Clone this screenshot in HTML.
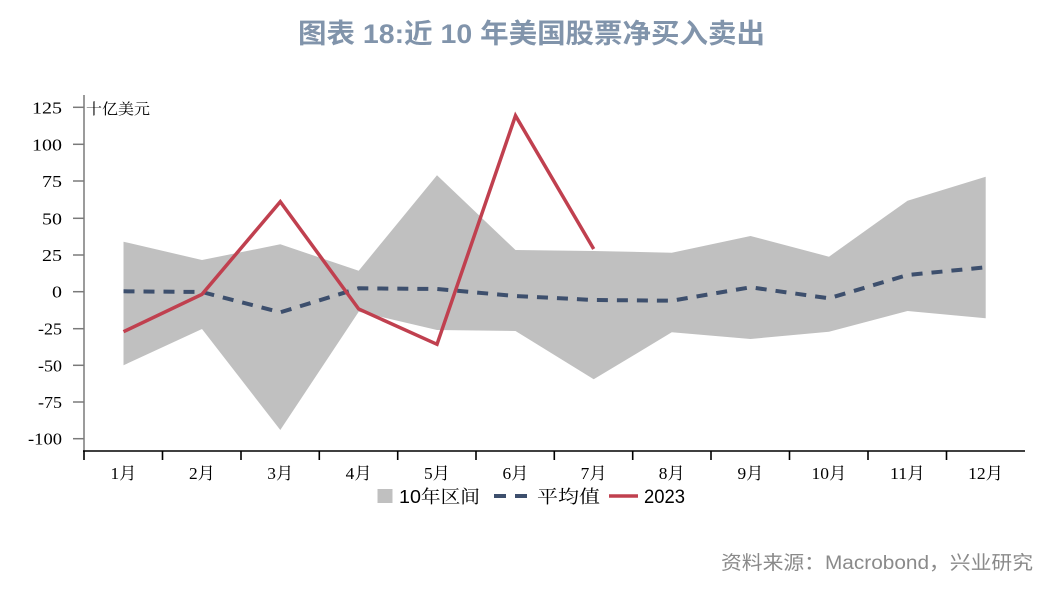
<!DOCTYPE html>
<html>
<head>
<meta charset="utf-8">
<style>
  html, body { margin:0; padding:0; background:#ffffff; }
  body { width:1059px; height:591px; overflow:hidden; }
  svg { display:block; }
</style>
</head>
<body>
<svg width="1059" height="591" viewBox="0 0 1059 591" xmlns="http://www.w3.org/2000/svg">
  <rect x="0" y="0" width="1059" height="591" fill="#ffffff"/>

  <!-- Title -->
  <text x="298" y="43" font-family="'Liberation Sans','Noto Sans CJK SC',sans-serif" font-size="27" font-weight="bold" fill="#8194ab" textLength="467" lengthAdjust="spacingAndGlyphs">图表 18:近 10 年美国股票净买入卖出</text>

  <!-- Band -->
  <polygon fill="#c0c0c0" points="
    123.5,241.7 202,260 280.3,244.3 358.7,270.7 437,175.3 515.5,250 593.7,251 671.8,252.7 750.5,236 829,256.7 907.5,200.7 985.7,176.7
    985.7,318.3 907.5,311 829,331.7 750.5,339 671.8,332.3 593.7,379.3 515.5,331 437,330 358.7,311.7 280.3,430 202,329 123.5,365.3"/>

  <!-- Average dashed -->
  <polyline fill="none" stroke="#3d4f6d" stroke-width="4" stroke-dasharray="11,9"
    points="123.5,291.3 202,292 280.3,312.3 358.7,288.3 437,289 515.5,296 593.7,300 671.8,300.7 750.5,287.3 829,298.3 907.5,275 985.7,267.3"/>

  <!-- 2023 -->
  <polyline fill="none" stroke="#c0404f" stroke-width="3.5" stroke-linejoin="miter"
    points="123.5,331.7 202,294.3 280.3,201.7 358.7,309 437,344.3 515.5,115.7 593.7,249"/>

  <!-- Y axis -->
  <line x1="84" y1="95" x2="84" y2="452" stroke="#7a7a7a" stroke-width="1.5"/>
  <g stroke="#7a7a7a" stroke-width="1.5">
    <line x1="73" y1="107.3" x2="84" y2="107.3"/>
    <line x1="73" y1="144.3" x2="84" y2="144.3"/>
    <line x1="73" y1="181" x2="84" y2="181"/>
    <line x1="73" y1="218.3" x2="84" y2="218.3"/>
    <line x1="73" y1="255" x2="84" y2="255"/>
    <line x1="73" y1="291.7" x2="84" y2="291.7"/>
    <line x1="73" y1="328.7" x2="84" y2="328.7"/>
    <line x1="73" y1="365.3" x2="84" y2="365.3"/>
    <line x1="73" y1="402" x2="84" y2="402"/>
    <line x1="73" y1="438.7" x2="84" y2="438.7"/>
  </g>
  <g font-family="'Liberation Serif',serif" font-size="17" fill="#000" text-anchor="end">
    <text x="62" y="113.3" textLength="30" lengthAdjust="spacingAndGlyphs">125</text>
    <text x="62" y="150.3" textLength="30" lengthAdjust="spacingAndGlyphs">100</text>
    <text x="62" y="187" textLength="20" lengthAdjust="spacingAndGlyphs">75</text>
    <text x="62" y="224.3" textLength="20" lengthAdjust="spacingAndGlyphs">50</text>
    <text x="62" y="261" textLength="20" lengthAdjust="spacingAndGlyphs">25</text>
    <text x="62" y="297.7" textLength="10" lengthAdjust="spacingAndGlyphs">0</text>
    <text x="62" y="334.7" textLength="24" lengthAdjust="spacingAndGlyphs">-25</text>
    <text x="62" y="371.3" textLength="24" lengthAdjust="spacingAndGlyphs">-50</text>
    <text x="62" y="408" textLength="24" lengthAdjust="spacingAndGlyphs">-75</text>
    <text x="62" y="444.7" textLength="34" lengthAdjust="spacingAndGlyphs">-100</text>
  </g>

  <!-- Unit label -->
  <text x="86" y="114" font-family="'Liberation Serif','Noto Serif CJK SC',serif" font-size="15" fill="#000" textLength="64" lengthAdjust="spacingAndGlyphs">十亿美元</text>

  <!-- X axis -->
  <line x1="83" y1="451" x2="1025" y2="451" stroke="#000" stroke-width="1.6"/>
  <g stroke="#000" stroke-width="1.6">
    <line x1="84" y1="451" x2="84" y2="460"/>
    <line x1="162.5" y1="451" x2="162.5" y2="460"/>
    <line x1="241" y1="451" x2="241" y2="460"/>
    <line x1="319.3" y1="451" x2="319.3" y2="460"/>
    <line x1="397.7" y1="451" x2="397.7" y2="460"/>
    <line x1="476" y1="451" x2="476" y2="460"/>
    <line x1="554.3" y1="451" x2="554.3" y2="460"/>
    <line x1="632.7" y1="451" x2="632.7" y2="460"/>
    <line x1="711" y1="451" x2="711" y2="460"/>
    <line x1="789.5" y1="451" x2="789.5" y2="460"/>
    <line x1="868" y1="451" x2="868" y2="460"/>
    <line x1="946.5" y1="451" x2="946.5" y2="460"/>
  </g>
  <g font-family="'Liberation Serif','Noto Serif CJK SC',serif" font-size="17" fill="#000" text-anchor="middle">
    <text x="123.5" y="479" textLength="26" lengthAdjust="spacingAndGlyphs">1月</text>
    <text x="202" y="479" textLength="26" lengthAdjust="spacingAndGlyphs">2月</text>
    <text x="280.3" y="479" textLength="26" lengthAdjust="spacingAndGlyphs">3月</text>
    <text x="358.7" y="479" textLength="26" lengthAdjust="spacingAndGlyphs">4月</text>
    <text x="437" y="479" textLength="26" lengthAdjust="spacingAndGlyphs">5月</text>
    <text x="515.5" y="479" textLength="26" lengthAdjust="spacingAndGlyphs">6月</text>
    <text x="593.7" y="479" textLength="26" lengthAdjust="spacingAndGlyphs">7月</text>
    <text x="671.8" y="479" textLength="26" lengthAdjust="spacingAndGlyphs">8月</text>
    <text x="750.5" y="479" textLength="26" lengthAdjust="spacingAndGlyphs">9月</text>
    <text x="829" y="479" textLength="35" lengthAdjust="spacingAndGlyphs">10月</text>
    <text x="907.5" y="479" textLength="35" lengthAdjust="spacingAndGlyphs">11月</text>
    <text x="985.7" y="479" textLength="35" lengthAdjust="spacingAndGlyphs">12月</text>
  </g>

  <!-- Legend -->
  <rect x="377.5" y="489" width="15" height="14" fill="#c0c0c0"/>
  <text x="399" y="503" font-family="'Liberation Sans','Noto Serif CJK SC',sans-serif" font-size="18" fill="#000" textLength="81" lengthAdjust="spacingAndGlyphs">10年区间</text>
  <line x1="494" y1="496" x2="506" y2="496" stroke="#3d4f6d" stroke-width="4"/>
  <line x1="515" y1="496" x2="527" y2="496" stroke="#3d4f6d" stroke-width="4"/>
  <text x="537" y="503" font-family="'Liberation Sans','Noto Serif CJK SC',sans-serif" font-size="18" fill="#000" textLength="63" lengthAdjust="spacingAndGlyphs">平均值</text>
  <line x1="609" y1="496" x2="638" y2="496" stroke="#c0404f" stroke-width="3.5"/>
  <text x="644" y="503" font-family="'Liberation Sans',sans-serif" font-size="19" fill="#000" textLength="41" lengthAdjust="spacingAndGlyphs">2023</text>

  <!-- Source -->
  <text x="721" y="569" font-family="'Liberation Sans','Noto Sans CJK SC',sans-serif" font-size="19" fill="#8a8a8a" textLength="312" lengthAdjust="spacingAndGlyphs">资料来源：Macrobond，兴业研究</text>
</svg>
</body>
</html>
